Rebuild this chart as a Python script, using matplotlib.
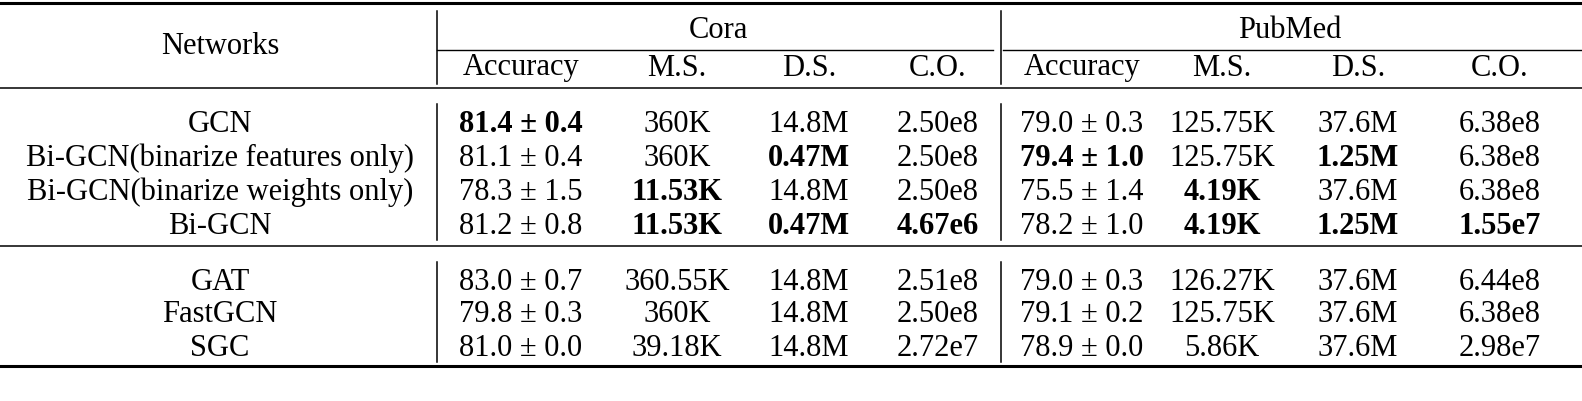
import matplotlib.pyplot as plt
from matplotlib.lines import Line2D

networks = ["GCN", "Bi-GCN(binarize features only)", "Bi-GCN(binarize weights only)", "Bi-GCN",
            "GAT", "FastGCN", "SGC"]
cora_acc = ["81.4 ± 0.4", "81.1 ± 0.4", "78.3 ± 1.5", "81.2 ± 0.8", "83.0 ± 0.7", "79.8 ± 0.3", "81.0 ± 0.0"]
cora_ms = ["360K", "360K", "11.53K", "11.53K", "360.55K", "360K", "39.18K"]
cora_ds = ["14.8M", "0.47M", "14.8M", "0.47M", "14.8M", "14.8M", "14.8M"]
cora_co = ["2.50e8", "2.50e8", "2.50e8", "4.67e6", "2.51e8", "2.50e8", "2.72e7"]
pub_acc = ["79.0 ± 0.3", "79.4 ± 1.0", "75.5 ± 1.4", "78.2 ± 1.0", "79.0 ± 0.3", "79.1 ± 0.2", "78.9 ± 0.0"]
pub_ms = ["125.75K", "125.75K", "4.19K", "4.19K", "126.27K", "125.75K", "5.86K"]
pub_ds = ["37.6M", "1.25M", "37.6M", "1.25M", "37.6M", "37.6M", "37.6M"]
pub_co = ["6.38e8", "6.38e8", "6.38e8", "1.55e7", "6.44e8", "6.38e8", "2.98e7"]
# bold cells: (row, column index)
bold = {(0, 1), (1, 3), (2, 2), (3, 2), (3, 3), (3, 4),
        (1, 5), (1, 7), (2, 6), (3, 6), (3, 7), (3, 8)}

columns = [networks, cora_acc, cora_ms, cora_ds, cora_co, pub_acc, pub_ms, pub_ds, pub_co]
col_x = [220, 521, 677, 809, 938, 1082, 1222, 1358, 1500]
row_y = [124, 158, 192, 226, 282, 315, 348]

W, H = 1582, 401
fig = plt.figure(figsize=(W / 100, H / 100), dpi=100)
ax = fig.add_axes([0, 0, 1, 1])
ax.set_xlim(0, W)
ax.set_ylim(H, 0)
ax.axis("off")
plt.rcParams["font.family"] = ["Liberation Serif", "DejaVu Serif"]
fs = 22

def hline(x0, x1, y, lw):
  ax.add_line(Line2D([x0, x1], [y, y], color="black", lw=lw))

def vline(x, y0, y1):
  ax.add_line(Line2D([x, x], [y0, y1], color="black", lw=1.1))

hline(0, W, 2.5, 2.2)
hline(437, 993, 50, 1.0)
hline(1003, W, 50, 1.0)
hline(0, W, 88, 1.1)
hline(0, W, 246, 1.1)
hline(0, W, 366, 2.2)
for x in (437, 1001):
  vline(x, 11, 84)
  vline(x, 104, 240)
  vline(x, 262, 362)

ax.text(220, 47, "Networks", ha="center", va="center", fontsize=fs)
ax.text(718, 30, "Cora", ha="center", va="center", fontsize=fs)
ax.text(1290, 30, "PubMed", ha="center", va="center", fontsize=fs)
for x, s in zip(col_x[1:], ["Accuracy", "M.S.", "D.S.", "C.O."] * 2):
  ax.text(x, 68, s, ha="center", va="center", fontsize=fs)

for c, (x, col) in enumerate(zip(col_x, columns)):
  for r, (y, s) in enumerate(zip(row_y, col)):
    ax.text(x, y, s, ha="center", va="center", fontsize=fs,
            fontweight="bold" if (r, c) in bold else "normal")

fig.savefig("out.png", dpi=100)
